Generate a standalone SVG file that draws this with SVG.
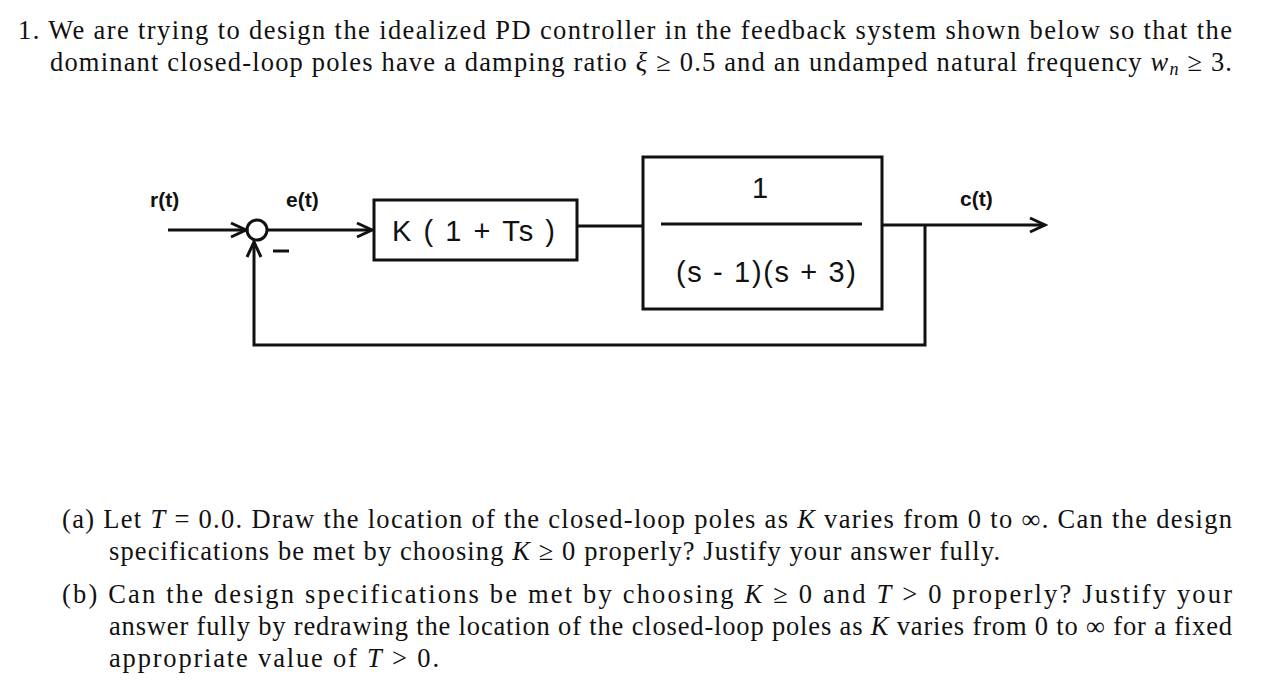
<svg xmlns="http://www.w3.org/2000/svg" width="1288" height="682" viewBox="0 0 1288 682">
<style>
.t{font-family:"Liberation Serif","DejaVu Serif",serif;font-size:26.5px;fill:#111}
.d{font-family:"Liberation Sans",Arial,sans-serif;fill:#111}
.ln{stroke:#111;stroke-width:3;fill:none}
.ah{stroke:#111;stroke-width:3;fill:none}
</style>
<defs>
<marker id="a" markerWidth="20" markerHeight="20" refX="17" refY="9" orient="auto" markerUnits="userSpaceOnUse">
<path d="M2,2 L17,9 L2,16" class="ah"/>
</marker>
</defs>
<rect width="1288" height="682" fill="#fff"/>
<g id="question">
<text class="t" x="18" y="39" textLength="1214" lengthAdjust="spacing">1. We are trying to design the idealized PD controller in the feedback system shown below so that the</text>
<text class="t" x="50" y="71" textLength="1182" lengthAdjust="spacing">dominant closed-loop poles have a damping ratio <tspan font-style="italic">ξ</tspan> ≥ 0.5 and an undamped natural frequency <tspan font-style="italic">w</tspan><tspan font-style="italic" font-size="18" dy="4">n</tspan><tspan dy="-4"> ≥ 3.</tspan></text>
</g>
<g id="connectors">
<line class="ln" x1="168" y1="230" x2="246" y2="230" marker-end="url(#a)"/>
<line class="ln" x1="267" y1="230" x2="372" y2="230" marker-end="url(#a)"/>
<line class="ln" x1="577" y1="226" x2="643" y2="226"/>
<line class="ln" x1="882" y1="225" x2="1045" y2="225" marker-end="url(#a)"/>
<polyline class="ln" points="925,225 925,345 254,345 254,242" marker-end="url(#a)"/>
</g>
<g id="sum">
<circle cx="257" cy="230" r="10" class="ln" fill="#fff"/>
<line class="ln" x1="273" y1="251" x2="289" y2="251"/>
</g>
<g id="labels">
<text class="d" x="150" y="207" font-size="21" font-weight="bold">r(t)</text>
<text class="d" x="286" y="207" font-size="21" font-weight="bold">e(t)</text>
<text class="d" x="960" y="206" font-size="21" font-weight="bold">c(t)</text>
</g>
<g id="controller">
<rect x="374" y="200" width="203" height="60" class="ln"/>
<text class="d" x="392" y="241" font-size="29" textLength="163" lengthAdjust="spacing">K ( 1 + Ts )</text>
</g>
<g id="plant">
<rect x="643" y="157" width="239" height="152" class="ln"/>
<line class="ln" x1="661" y1="224" x2="862" y2="224"/>
<text class="d" x="760" y="198" font-size="29" text-anchor="middle">1</text>
<text class="d" x="676" y="282" font-size="29" textLength="180" lengthAdjust="spacing">(s - 1)(s + 3)</text>
</g>
<g id="parts">
<text class="t" x="62" y="528" textLength="1170" lengthAdjust="spacing">(a) Let <tspan font-style="italic">T</tspan> = 0.0. Draw the location of the closed-loop poles as <tspan font-style="italic">K</tspan> varies from 0 to ∞. Can the design</text>
<text class="t" x="109" y="560" textLength="891" lengthAdjust="spacing">specifications be met by choosing <tspan font-style="italic">K</tspan> ≥ 0 properly? Justify your answer fully.</text>
<text class="t" x="62" y="603" textLength="1170" lengthAdjust="spacing">(b) Can the design specifications be met by choosing <tspan font-style="italic">K</tspan> ≥ 0 and <tspan font-style="italic">T</tspan> &gt; 0 properly? Justify your</text>
<text class="t" x="109" y="635" textLength="1123" lengthAdjust="spacing">answer fully by redrawing the location of the closed-loop poles as <tspan font-style="italic">K</tspan> varies from 0 to ∞ for a fixed</text>
<text class="t" x="109" y="667" textLength="330" lengthAdjust="spacing">appropriate value of <tspan font-style="italic">T</tspan> &gt; 0.</text>
</g>
</svg>
